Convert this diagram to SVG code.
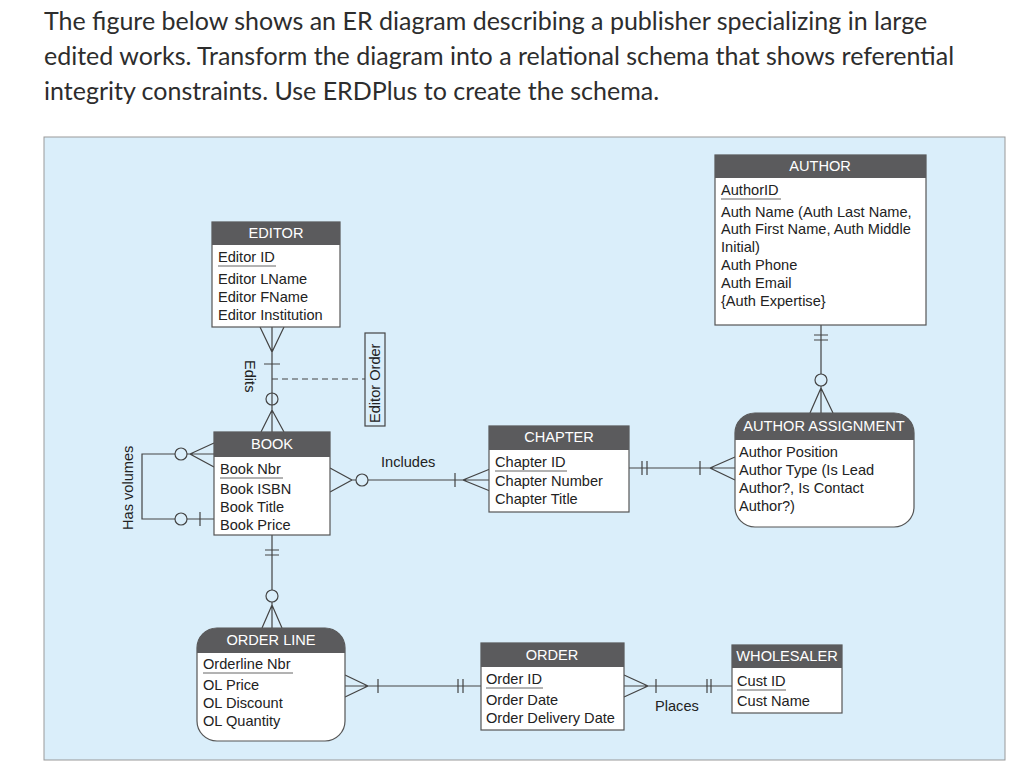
<svg xmlns="http://www.w3.org/2000/svg" width="1024" height="767" viewBox="0 0 1024 767">
<style>
.q{font-family:Lato,"Liberation Sans",sans-serif;font-size:25px;fill:#2d2d2d}
.t{font-family:"Liberation Sans",Arial,sans-serif;font-size:14.6px;fill:#222}
.h{font-family:"Liberation Sans",Arial,sans-serif;font-size:14.6px;fill:#fff}
.box{fill:#fff;stroke:#555;stroke-width:1.2}
.hd{fill:#5b5b5d}
.ln{stroke:#444;stroke-width:1.2;fill:none}
.ul{stroke:#666;stroke-width:1}
</style>
<rect width="1024" height="767" fill="#fff"/>
<text class="q" x="44" y="30">The figure below shows an ER diagram describing a publisher specializing in large</text>
<text class="q" x="44" y="65">edited works. Transform the diagram into a relational schema that shows referential</text>
<text class="q" x="44" y="100">integrity constraints. Use ERDPlus to create the schema.</text>
<rect x="44" y="137" width="961" height="623" fill="#daeefa" stroke="#999" stroke-width="1"/>

<g id="connectors" class="ln">
<path d="M272 327V432M260 327L272 352L284 327M264 364H280M261 432L272 410L284 432"/>
<circle cx="272" cy="399" r="6"/>
<path d="M272 379H365" stroke-dasharray="6,4"/>
<path d="M214 443L190 454L214 467M214 454H187M175 454H142V519H175M187 519H214M200 512V526"/>
<circle cx="181" cy="454" r="6"/><circle cx="181" cy="519" r="6"/>
<path d="M330 468L352 480L330 492M352 480H356M368 480H490M455 473V487M490 469L463 480L490 491"/>
<circle cx="362" cy="480" r="6"/>
<path d="M629 468H735M642 461V475M647 461V475M700 461V475M735 457L710 468L735 480"/>
<path d="M821 325V374M821 386V413M814 335H828M814 340H828M810 413L821 388L833 413"/>
<circle cx="821" cy="380" r="6"/>
<path d="M272 535V590M272 602V628M265 550H279M265 555H279M262 628L272 605L282 628"/>
<circle cx="272" cy="596" r="6"/>
<path d="M345 675L368 686L345 697M345 686H481M378 679V693M458 679V693M463 679V693"/>
<path d="M624 675L648 686L624 697M624 686H732M656 679V693M707 679V693M711 679V693"/>
</g>

<g id="editor">
<rect class="box" x="212" y="222" width="128" height="105"/>
<rect class="hd" x="212" y="222" width="128" height="23"/>
<text class="h" x="276" y="238" text-anchor="middle">EDITOR</text>
<text class="t" x="218" y="262">Editor ID</text><line class="ul" x1="218" y1="266" x2="276" y2="266"/>
<text class="t" x="218" y="284">Editor LName</text>
<text class="t" x="218" y="302">Editor FName</text>
<text class="t" x="218" y="320">Editor Institution</text>
</g>
<g id="edits-label"><text class="t" transform="translate(245 360) rotate(90)">Edits</text></g>
<g id="editor-order">
<rect x="365" y="333" width="20" height="93" fill="none" stroke="#444" stroke-width="1.2"/>
<text class="t" transform="translate(380 423) rotate(-90)">Editor Order</text>
</g>
<g id="book">
<rect class="box" x="214" y="432" width="116" height="103"/>
<rect class="hd" x="214" y="432" width="116" height="25"/>
<text class="h" x="272" y="449" text-anchor="middle">BOOK</text>
<text class="t" x="220" y="474">Book Nbr</text><line class="ul" x1="220" y1="478" x2="283" y2="478"/>
<text class="t" x="220" y="494">Book ISBN</text>
<text class="t" x="220" y="512">Book Title</text>
<text class="t" x="220" y="530">Book Price</text>
</g>
<g id="has-volumes"><text class="t" transform="translate(133 530) rotate(-90)">Has volumes</text></g>
<g id="includes"><text class="t" x="381" y="467">Includes</text></g>
<g id="chapter">
<rect class="box" x="489" y="426" width="140" height="86"/>
<rect class="hd" x="489" y="426" width="140" height="24"/>
<text class="h" x="559" y="442" text-anchor="middle">CHAPTER</text>
<text class="t" x="495" y="467">Chapter ID</text><line class="ul" x1="495" y1="471" x2="567" y2="471"/>
<text class="t" x="495" y="486">Chapter Number</text>
<text class="t" x="495" y="504">Chapter Title</text>
</g>
<g id="author">
<rect class="box" x="715" y="155" width="211" height="170"/>
<rect class="hd" x="715" y="155" width="211" height="23"/>
<text class="h" x="820" y="171" text-anchor="middle">AUTHOR</text>
<text class="t" x="721" y="195">AuthorID</text><line class="ul" x1="721" y1="199" x2="781" y2="199"/>
<text class="t" x="721" y="217">Auth Name (Auth Last Name,</text>
<text class="t" x="721" y="234">Auth First Name, Auth Middle</text>
<text class="t" x="721" y="252">Initial)</text>
<text class="t" x="721" y="270">Auth Phone</text>
<text class="t" x="721" y="288">Auth Email</text>
<text class="t" x="721" y="306">{Auth Expertise}</text>
</g>
<g id="author-assignment">
<rect class="box" x="735" y="413" width="179" height="114" rx="20"/>
<path class="hd" d="M755 413H894A20 20 0 0 1 914 433V440H735V433A20 20 0 0 1 755 413Z"/>
<text class="h" x="824" y="431" text-anchor="middle">AUTHOR ASSIGNMENT</text>
<text class="t" x="739" y="457">Author Position</text>
<text class="t" x="739" y="475">Author Type (Is Lead</text>
<text class="t" x="739" y="493">Author?, Is Contact</text>
<text class="t" x="739" y="511">Author?)</text>
</g>
<g id="order-line">
<rect class="box" x="197" y="628" width="148" height="113" rx="20"/>
<path class="hd" d="M217 628H325A20 20 0 0 1 345 648V653H197V648A20 20 0 0 1 217 628Z"/>
<text class="h" x="271" y="645" text-anchor="middle">ORDER LINE</text>
<text class="t" x="203" y="669">Orderline Nbr</text><line class="ul" x1="203" y1="673" x2="293" y2="673"/>
<text class="t" x="203" y="690">OL Price</text>
<text class="t" x="203" y="708">OL Discount</text>
<text class="t" x="203" y="726">OL Quantity</text>
</g>
<g id="order">
<rect class="box" x="481" y="643" width="143" height="87"/>
<rect class="hd" x="481" y="643" width="143" height="24"/>
<text class="h" x="552" y="660" text-anchor="middle">ORDER</text>
<text class="t" x="486" y="684">Order ID</text><line class="ul" x1="486" y1="688" x2="543" y2="688"/>
<text class="t" x="486" y="705">Order Date</text>
<text class="t" x="486" y="723">Order Delivery Date</text>
</g>
<g id="places"><text class="t" x="655" y="711">Places</text></g>
<g id="wholesaler">
<rect class="box" x="732" y="645" width="110" height="68"/>
<rect class="hd" x="732" y="645" width="110" height="23"/>
<text class="h" x="787" y="661" text-anchor="middle">WHOLESALER</text>
<text class="t" x="737" y="686">Cust ID</text><line class="ul" x1="737" y1="690" x2="786" y2="690"/>
<text class="t" x="737" y="706">Cust Name</text>
</g>
</svg>
